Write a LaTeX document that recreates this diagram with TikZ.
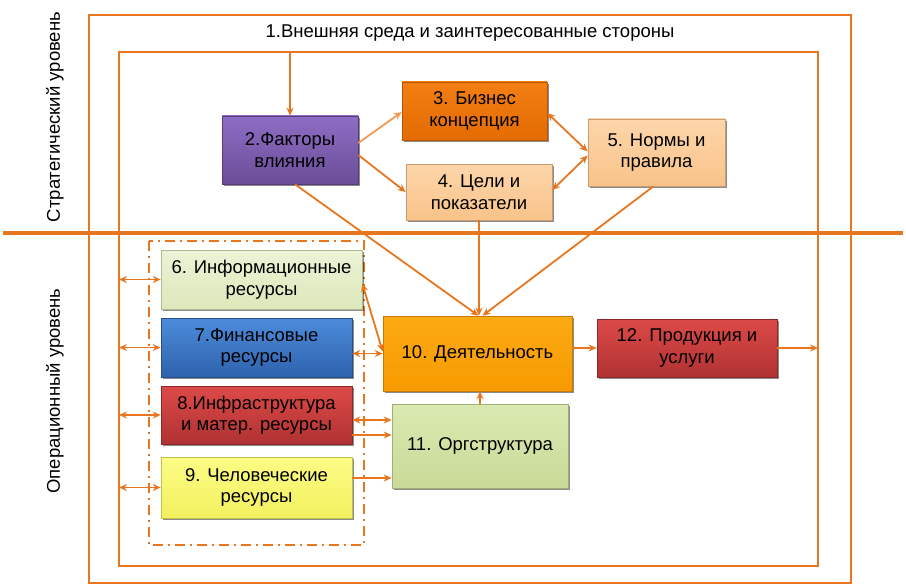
\documentclass[tikz,border=0pt]{standalone}
\usepackage{fontspec}
\setmainfont{Liberation Sans}
\usetikzlibrary{arrows.meta,shadows}
\definecolor{lineor}{HTML}{E8761E}
\definecolor{lightor}{HTML}{F39A52}
\definecolor{purT}{HTML}{8E6EC4}\definecolor{purB}{HTML}{6A4C98}
\definecolor{orT}{HTML}{F27E14}\definecolor{orB}{HTML}{E46C02}
\definecolor{peT}{HTML}{FDD6AA}\definecolor{peB}{HTML}{F9C38A}
\definecolor{lgT}{HTML}{EBF3D6}\definecolor{lgB}{HTML}{DCE8BA}
\definecolor{blT}{HTML}{4C8CDA}\definecolor{blB}{HTML}{2E62AE}
\definecolor{rdT}{HTML}{DC4A48}\definecolor{rdB}{HTML}{B03232}
\definecolor{yeT}{HTML}{FCFC86}\definecolor{yeB}{HTML}{F3F05E}
\definecolor{aoT}{HTML}{FCAA14}\definecolor{aoB}{HTML}{F89A00}
\definecolor{ggT}{HTML}{DAE9B0}\definecolor{ggB}{HTML}{CADA98}
\tikzset{
  box/.style={rectangle, align=center, inner sep=1pt, font=\fontsize{18.5}{21.5}\selectfont,
    drop shadow={shadow xshift=2pt, shadow yshift=-2pt, opacity=0.45, fill=black}},
  frame/.style={draw=lineor, line width=2.6pt},
  arr/.style={draw=lineor, line width=1.8pt, -{Stealth[length=8pt,width=7pt]}},
  darr/.style={draw=lineor, line width=1.8pt, {Stealth[length=8pt,width=7pt]}-{Stealth[length=8pt,width=7pt]}},
  boxcol/.style args={#1/#2}{top color=#1, bottom color=#2, draw=#2!80!black, line width=0.6pt},
  lbl/.style={font=\fontsize{18.5}{21.5}\selectfont}
}
\begin{document}
\begin{tikzpicture}[x=1pt,y=-1pt]
\useasboundingbox (0,0) rectangle (906,586);
% frames
\draw[frame] (89,15) rectangle (851,583);
\draw[frame] (119,52) rectangle (818,566);
\draw[draw=lineor, line width=4.5pt] (3,233) -- (903,233);
\draw[draw=lineor, line width=2pt, dash pattern=on 10pt off 5pt on 2pt off 5pt] (149,241) rectangle (364,545);
% labels
\node[lbl] (title) at (470,33) {1.Внешняя среда и заинтересованные стороны};
\node[lbl, rotate=90] (strat) at (55,117) {Стратегический уровень};
\node[lbl, rotate=90] (oper) at (55,391) {Операционный уровень};
% coordinates on frames
\coordinate (topin) at (290,52);
\coordinate (L) at (119,0);
\coordinate (R) at (818,348);
% boxes
\node[box, boxcol={purT}/{purB}, minimum width=136, minimum height=68] (n2) at (290,150) {2.Факторы\\влияния};
\node[box, boxcol={orT}/{orB}, minimum width=145, minimum height=58] (n3) at (474.5,111) {3. Бизнес\\концепция};
\node[box, boxcol={peT}/{peB}, minimum width=146, minimum height=56] (n4) at (479,192) {4. Цели и\\показатели};
\node[box, boxcol={peT}/{peB}, minimum width=137, minimum height=67] (n5) at (656.5,152.5) {5. Нормы и\\правила};
\node[box, boxcol={lgT}/{lgB}, minimum width=201, minimum height=59] (n6) at (261.5,279.5) {6. Информационные\\ресурсы};
\node[box, boxcol={blT}/{blB}, minimum width=191, minimum height=59] (n7) at (256.5,347.5) {7.Финансовые\\ресурсы};
\node[box, boxcol={rdT}/{rdB}, minimum width=191, minimum height=58] (n8) at (256.5,415) {8.Инфраструктура\\и матер. ресурсы};
\node[box, boxcol={yeT}/{yeB}, minimum width=191, minimum height=61] (n9) at (256.5,487.5) {9. Человеческие\\ресурсы};
\node[box, boxcol={aoT}/{aoB}, minimum width=189, minimum height=75] (n10) at (477.5,353.5) {10. Деятельность};
\node[box, boxcol={ggT}/{ggB}, minimum width=176, minimum height=84] (n11) at (480,446) {11. Оргструктура};
\node[box, boxcol={rdT}/{rdB}, minimum width=180, minimum height=58] (n12) at (687,348) {12. Продукция и\\услуги};
% strategic arrows
\draw[arr] (topin) -- (n2.north);
\draw[arr, draw=lightor] ([yshift=7pt]n2.east) -- ([yshift=-1pt]n3.west);
\draw[arr] ([yshift=-5pt]n2.east) -- (n4.west);
\draw[darr] ([yshift=-2pt]n3.east) -- ([yshift=1pt]n5.west);
\draw[darr] ([yshift=2pt]n4.east) -- ([yshift=-3pt]n5.west);
\draw[arr] ([xshift=5pt]n2.south) -- ([xshift=1pt]n10.north);
\draw[arr] (n4.south) -- (n4.south |- n10.north);
\draw[arr] ([xshift=-3pt]n5.south) -- ([xshift=5pt]n10.north);
% operational arrows
\draw[darr] ([yshift=-4pt]n6.east) -- ([yshift=2pt]n10.west);
\draw[darr] ([yshift=-6pt]n7.east) -- ([yshift=-6pt]n7.east -| n10.west);
\draw[darr] ([yshift=-5pt]n8.east) -- ([yshift=-5pt]n8.east -| n11.west);
\draw[arr] ([yshift=-20pt]n8.east) -- ([yshift=-20pt]n8.east -| n11.west);
\draw[arr] ([yshift=9.5pt]n9.east) -- ([yshift=9.5pt]n9.east -| n11.west);
\draw[arr] (n11.north) -- (n11.north |- n10.south);
\draw[arr] (n12.west -| n10.east) -- (n12.west);
\draw[arr] (n12.east) -- (R);
\draw[darr] (n6.west -| L) -- (n6.west);
\draw[darr] (n7.west -| L) -- (n7.west);
\draw[darr] (n8.west -| L) -- (n8.west);
\draw[darr] (n9.west -| L) -- (n9.west);
\end{tikzpicture}
\end{document}
